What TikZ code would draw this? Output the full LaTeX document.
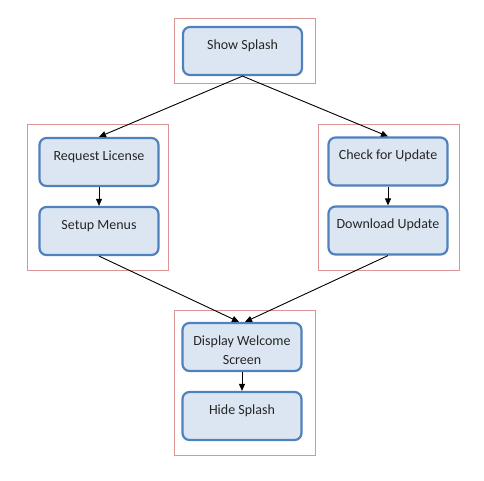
\documentclass[tikz,border=0pt]{standalone}
\usepackage{fontspec}
\setmainfont{Carlito}
\usetikzlibrary{arrows.meta}
\definecolor{stepblue}{HTML}{4F81BD}
\definecolor{stepfill}{HTML}{DCE6F2}
\definecolor{framered}{HTML}{D99694}
\definecolor{steptext}{HTML}{262626}
\tikzset{
  stepbox/.style={draw=stepblue, line width=2.2pt, fill=stepfill, rounded corners=7pt,
    text=steptext, inner sep=0pt, minimum width=119pt, minimum height=48pt},
  groupframe/.style={draw=framered, line width=1pt},
  flow/.style={-{Triangle[width=6pt,length=7pt]}, line width=0.9pt, black}
}
\newcommand{\boxtext}[1]{\parbox[c][46pt][t]{116pt}{\centering\fontsize{14}{19}\selectfont\rule{0pt}{21pt}#1}}

\begin{document}
\begin{tikzpicture}[x=1pt,y=-1pt]
        \useasboundingbox[fill=white] (0,0) rectangle (484,480);
        % group frames
        \draw[groupframe] (174,18) rectangle (315,83);
        \draw[groupframe] (27,124) rectangle (168,270);
        \draw[groupframe] (318,124) rectangle (459,270);
        \draw[groupframe] (174,310) rectangle (315,455);
        % steps
        \node[stepbox] (splash) at (242.5,51) {\boxtext{Show Splash}};
        \node[stepbox] (license) at (99,162) {\boxtext{Request License}};
        \node[stepbox] (menus) at (99,231) {\boxtext{Setup Menus}};
        \node[stepbox] (check) at (388,161.5) {\boxtext{Check for Update}};
        \node[stepbox] (download) at (388,230.5) {\boxtext{Download Update}};
        \node[stepbox] (welcome) at (242,347) {\boxtext{Display Welcome\\Screen}};
        \node[stepbox] (hide) at (242,416) {\boxtext{Hide Splash}};
        % connectors
        \draw[flow] (splash.south) -- (license.north);
        \draw[flow] (splash.south) -- (check.north);
        \draw[flow] (license.south) -- (menus.north);
        \draw[flow] (check.south) -- (download.north);
        \draw[flow] (menus.south) -- ([xshift=-3pt]welcome.north);
        \draw[flow] (download.south) -- ([xshift=3pt]welcome.north);
        \draw[flow] (welcome.south) -- (hide.north);
    \end{tikzpicture}
\end{document}
